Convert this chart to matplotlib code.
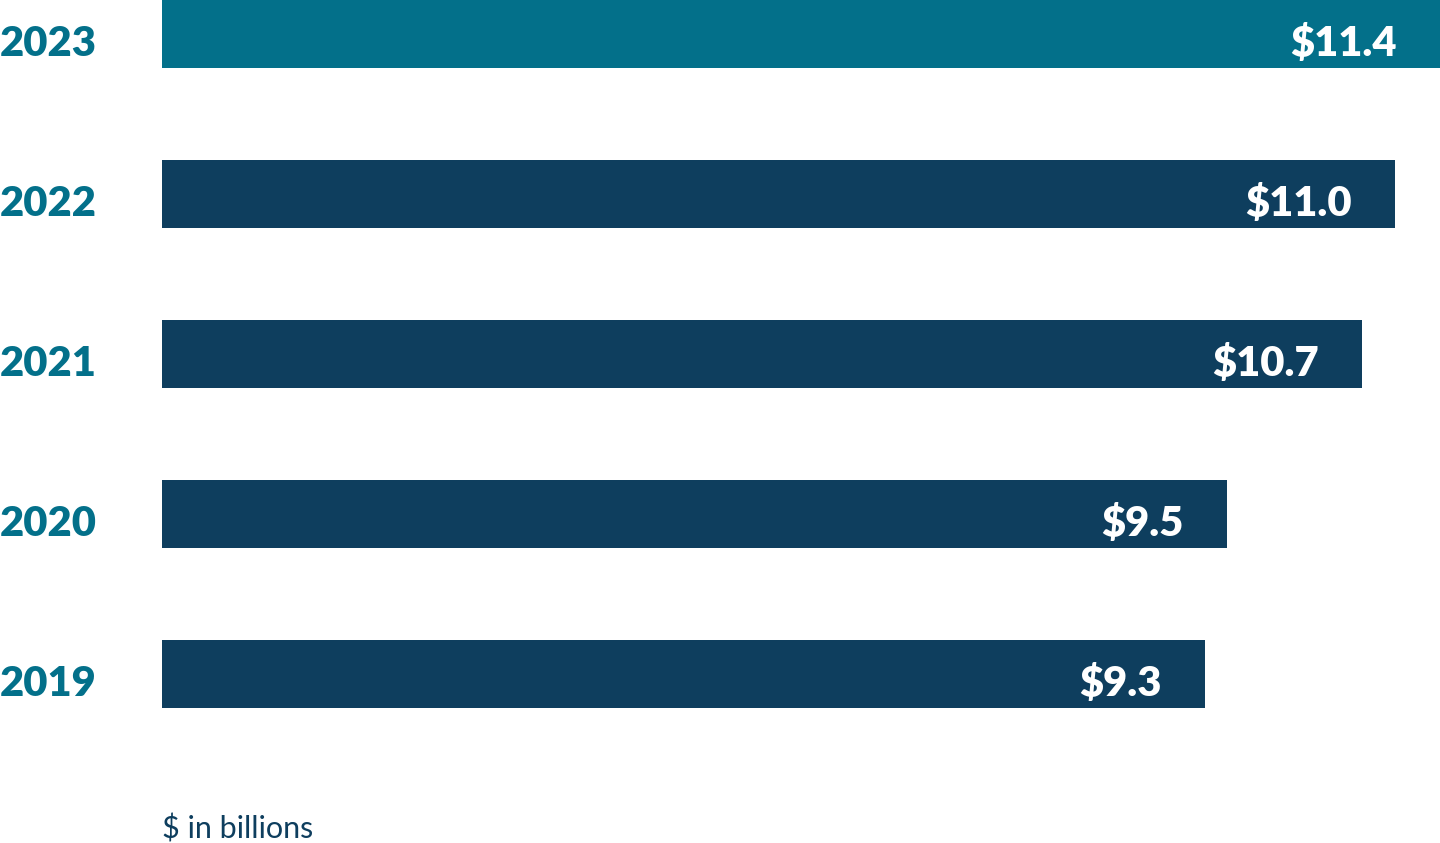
import matplotlib.pyplot as plt

years = ["2019", "2020", "2021", "2022", "2023"]
values = [9.3, 9.5, 10.7, 11.0, 11.4]
labels = ["$9.3", "$9.5", "$10.7", "$11.0", "$11.4"]
colors = ["#0E3E5E", "#0E3E5E", "#0E3E5E", "#0E3E5E", "#03708A"]

plt.rcParams['font.family'] = ['Lato', 'DejaVu Sans']

fig = plt.figure(figsize=(14.4, 8.43), dpi=100)
# axes: left at 162px, top at 0, height 800px
ax = fig.add_axes([162 / 1440, 43 / 843, 1278 / 1440, 800 / 843])

ypos = list(range(len(years)))
ax.barh(ypos, values, height=0.425, color=colors)
ax.set_xlim(0, max(values))
ax.set_ylim(-0.7875, 4.2125)
ax.axis("off")

for y, v, lab in zip(ypos, values, labels):
    ax.annotate(lab, (v, y), xytext=(-31, -7), textcoords="offset points",
                ha="right", va="center", color="white", fontsize=30,
                fontweight="heavy")

for y, yr in zip(ypos, years):
    ax.annotate(yr, (0, y), xycoords=("figure pixels", "data"),
                xytext=(0, -7), textcoords="offset points",
                ha="left", va="center", color="#03708A", fontsize=30,
                fontweight="heavy")

fig.text(162 / 1440, 1 - 829 / 843, "$ in billions", ha="left", va="center",
         color="#0E3E5E", fontsize=22)

fig.savefig("out.png", dpi=100)
